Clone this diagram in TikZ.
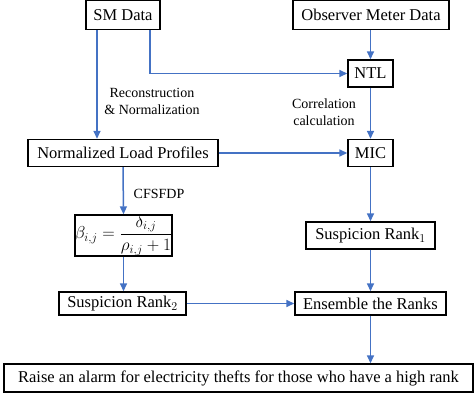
\documentclass[tikz,border=0pt]{standalone}
\usepackage{amsmath}
\usepackage{fontspec}
\setmainfont{Liberation Serif}
\usetikzlibrary{arrows.meta}

\definecolor{flowblue}{RGB}{68,114,196}

\tikzset{
  box/.style = {draw, line width=1.4pt, inner sep=2pt, minimum height=27pt, font=\fontsize{16.5}{19}\selectfont},
  arr/.style = {flowblue, line width=1.5pt, -{Triangle[length=8pt, width=7pt]}},
  note/.style = {align=center, font=\fontsize{14}{17}\selectfont}
}

\begin{document}
\begin{tikzpicture}[x=1pt, y=-1pt]

\useasboundingbox ( 0, 0 ) rectangle ( 474, 416 );

% Inputs
\node[box, minimum width=74pt, minimum height=29pt] (sm) at ( 123, 15 ) {SM Data};
\node[box, minimum width=156pt, minimum height=29pt] (obs) at ( 371, 15 ) {Observer Meter Data};
\node[box, minimum width=45pt] (ntl) at ( 370.5, 73.5 ) {NTL};

% Middle row
\node[box, minimum width=190pt] (nlp) at ( 123, 153 ) {Normalized Load Profiles};
\node[box, minimum width=45pt] (mic) at ( 370.5, 153 ) {MIC};

% Ranks
\node[box, minimum width=93pt, minimum height=41pt, inner sep=0pt, font=\fontsize{17}{19}\selectfont] (beta) at ( 123.5, 235.5 ) {$\beta_{i,j} = \dfrac{\delta_{i,j}}{\rho_{i,j} + 1}$};
\node[box, minimum width=129pt] (rankone) at ( 370.5, 235.5 ) {Suspicion Rank$_1$};
\node[box, minimum width=127pt, minimum height=23pt] (ranktwo) at ( 122.5, 303.5 ) {Suspicion Rank$_2$};
\node[box, minimum width=151pt, minimum height=23pt] (ens) at ( 370.5, 303.5 ) {Ensemble the Ranks};

% Output
\node[box, minimum width=469pt, minimum height=28pt] (alarm) at ( 238.5, 378 ) {Raise an alarm for electricity thefts for those who have a high rank};

% Connectors
\draw[arr] ([xshift=-26pt]sm.south) -- ([xshift=-26pt]sm.south |- nlp.north);
\draw[arr] ([xshift=27pt]sm.south) |- (ntl.west);
\draw[arr] (ntl.north |- obs.south) -- (ntl.north);
\draw[arr] (ntl.south) -- (mic.north);
\draw[arr] (nlp.east) -- (mic.west);
\draw[arr] (nlp.south) -- (beta.north);
\draw[arr] (mic.south) -- (rankone.north);
\draw[arr] (beta.south) -- (ranktwo.north -| beta.south);
\draw[arr] (rankone.south) -- (ens.north);
\draw[arr] (ranktwo.east) -- (ens.west);
\draw[arr] (ens.south) -- (alarm.north -| ens.south);

% Labels
\node[note] (recon) at ( 152, 101 ) {Reconstruction\\\& Normalization};
\node[note] (corr) at ( 324, 112 ) {Correlation\\calculation};
\node[note] (cfs) at ( 159, 194 ) {CFSFDP};

\end{tikzpicture}
\end{document}
